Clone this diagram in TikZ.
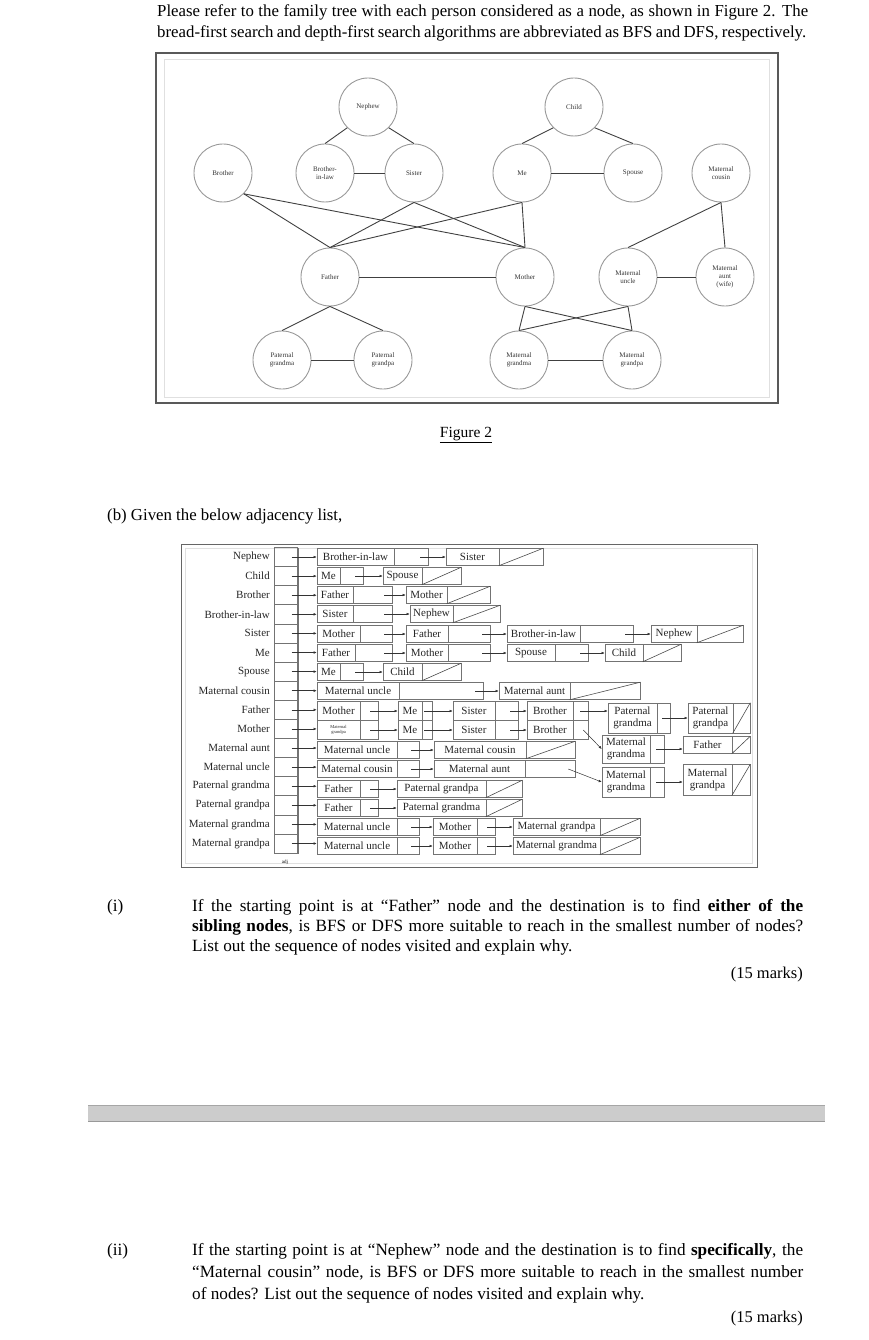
\documentclass[tikz,border=0pt]{standalone}
\usepackage{fontspec}
\setmainfont{Liberation Serif}
\usetikzlibrary{arrows.meta}
\tikzset{
 person/.style={circle, draw=black!40, line width=0.9pt, minimum size=58pt, inner sep=0pt, font=\fontsize{7}{8}\selectfont, align=center, text=black!80},
 link/.style={draw=black!75, line width=0.9pt},
 namebox/.style={draw=black!55, line width=0.6pt, inner sep=0pt, font=\fontsize{11}{11.5}\selectfont, align=center, text=black!85},
 tinytext/.style={font=\fontsize{4.5}{5}\selectfont},
 ptrbox/.style={draw=black!55, line width=0.6pt, inner sep=0pt},
 cellbox/.style={draw=black!55, line width=0.6pt, inner sep=0pt, minimum width=23pt, minimum height=19.1pt},
 ptr/.style={draw=black!80, line width=0.5pt, -{Latex[length=3pt,width=2.6pt]}},
 nullline/.style={draw=black!70, line width=0.6pt},
 lbl/.style={anchor=east, inner sep=0pt, font=\fontsize{11}{11.5}\selectfont, text=black!85},
 body/.style={font=\fontsize{16.8}{20}\selectfont, anchor=base west, inner sep=0pt},
 qtext/.style={font=\fontsize{17.2}{20}\selectfont, anchor=base west, inner sep=0pt},
 marks/.style={font=\fontsize{16.5}{20}\selectfont, anchor=base east, inner sep=0pt},
}
\newcommand\LN[8][]{%
 \node[namebox, #1, minimum width={#4-#3}, minimum height={#7}] (#2) at ({(#3+#4)/2},#6) {#8};
 \node[ptrbox, minimum width={#5-#4}, minimum height={#7}] (#2p) at ({(#4+#5)/2},#6) {};}
\newcommand\NL[1]{\draw[nullline] (#1p.south west) -- (#1p.north east);}
\newcommand\PT[2]{\draw[ptr] ([xshift=-8pt]#1p.east) -- (#1p.east -| #2.west);}
\begin{document}
\begin{tikzpicture}[x=1pt,y=-1pt]
\useasboundingbox (0,0) rectangle (868,1340);
% ---------- top text ----------
\node[body] (t1) at (157,17) {\makebox[651pt][s]{Please refer to the family tree with each person considered as a node, as shown in Figure 2. The}};
\node[body] (t2) at (157,38) {\makebox[649pt][s]{bread-first search and depth-first search algorithms are abbreviated as BFS and DFS, respectively.}};
% ---------- Figure 2 ----------
\draw[draw=black!65, line width=1.3pt] (156,53) rectangle (778,403);
\draw[draw=black!12, line width=0.7pt] (164,59) rectangle (769,397);
\node[person] (nephew) at (368,107) {Nephew};
\node[person] (child) at (574,107) {Child};
\node[person] (brother) at (223,173) {Brother};
\node[person] (bil) at (325,173) {Brother-\\in-law};
\node[person] (sister) at (414,173) {Sister};
\node[person] (me) at (522,173) {Me};
\node[person] (spouse) at (633,173) {Spouse};
\node[person] (mcousin) at (721,173) {Maternal\\cousin};
\node[person] (father) at (330,277) {Father};
\node[person] (mother) at (525,277) {Mother};
\node[person] (muncle) at (628,277) {Maternal\\uncle};
\node[person] (maunt) at (725,277) {Maternal\\aunt\\(wife)};
\node[person] (pgma) at (282,360) {Paternal\\grandma};
\node[person] (pgpa) at (383,360) {Paternal\\grandpa};
\node[person] (mgma) at (519,360) {Maternal\\grandma};
\node[person] (mgpa) at (632,360) {Maternal\\grandpa};
\draw[link] (nephew.-135) -- (bil.north);
\draw[link] (nephew.-45) -- (sister.north);
\draw[link] (bil) -- (sister);
\draw[link] (child.-135) -- (me.north);
\draw[link] (child.-45) -- (spouse.north);
\draw[link] (me) -- (spouse);
\draw[link] (brother.-45) -- (father.north);
\draw[link] (brother.-45) -- (mother.north);
\draw[link] (sister.south) -- (father.north);
\draw[link] (sister.south) -- (mother.north);
\draw[link] (me.south) -- (father.north);
\draw[link] (me.south) -- (mother.north);
\draw[link] (father) -- (mother);
\draw[link] (father.south) -- (pgma.north);
\draw[link] (father.south) -- (pgpa.north);
\draw[link] (pgma) -- (pgpa);
\draw[link] (mother.south) -- (mgma.north);
\draw[link] (mother.south) -- (mgpa.north);
\draw[link] (muncle.south) -- (mgma.north);
\draw[link] (muncle.south) -- (mgpa.north);
\draw[link] (mgma) -- (mgpa);
\draw[link] (muncle) -- (maunt);
\draw[link] (mcousin.south) -- (muncle.north);
\draw[link] (mcousin.south) -- (maunt.north);
\node[font=\fontsize{15.5}{20}\selectfont, inner sep=0pt, anchor=base] (cap) at (466,437) {\underline{Figure 2}};
% ---------- (b) ----------
\node[body] (bq) at (107,520) {(b) Given the below adjacency list,};
\draw[draw=black!60, line width=1pt] (181,544) rectangle (757,867);
\draw[draw=black!12, line width=0.6pt] (185,548) rectangle (752,863);
% adj array
\foreach \i/\t in {1/Nephew,2/Child,3/Brother,4/Brother-in-law,5/Sister,6/Me,7/Spouse,8/Maternal cousin,9/Father,10/Mother,11/Maternal aunt,12/Maternal uncle,13/Paternal grandma,14/Paternal grandpa,15/Maternal grandma,16/Maternal grandpa}{
  \node[cellbox] (c\i) at (285.5,{557+19.1*(\i-1)}) {};
  \node[lbl] (l\i) at (270,{557+19.1*(\i-1)}) {\t};
}
\draw[draw=black!55, line width=0.6pt] (298.5,547.5) -- (298.5,854);
\node[font=\fontsize{5}{5}\selectfont, inner sep=0pt] (adj) at (285,862) {adj};
% row 1 Nephew
\LN{r1a}{317}{394}{428}{557}{17}{Brother-in-law}
\LN{r1b}{446}{499}{543}{557}{17}{Sister}\NL{r1b}
\PT{r1a}{r1b}
% row 2 Child
\LN{r2a}{317}{340}{363}{576}{17}{Me}
\LN{r2b}{383}{422}{461}{576}{17}{Spouse}\NL{r2b}
\PT{r2a}{r2b}
% row 3 Brother
\LN{r3a}{317}{353}{392}{595}{17}{Father}
\LN{r3b}{406}{447}{490}{595}{17}{Mother}\NL{r3b}
\PT{r3a}{r3b}
% row 4 Brother-in-law
\LN{r4a}{317}{353}{392}{614}{17}{Sister}
\LN{r4b}{410}{453}{500}{614}{17}{Nephew}\NL{r4b}
\PT{r4a}{r4b}
% row 5 Sister
\LN{r5a}{317}{360}{392}{634}{17}{Mother}
\LN{r5b}{406}{448}{490}{634}{17}{Father}
\LN{r5c}{507}{580}{633}{634}{17}{Brother-in-law}
\LN{r5d}{651}{697}{743}{634}{17}{Nephew}\NL{r5d}
\PT{r5a}{r5b}\PT{r5b}{r5c}\PT{r5c}{r5d}
% row 6 Me
\LN{r6a}{317}{355}{392}{653}{17}{Father}
\LN{r6b}{406}{448}{490}{653}{17}{Mother}
\LN{r6c}{507}{555}{588}{653}{17}{Spouse}
\LN{r6d}{605}{643}{681}{653}{17}{Child}\NL{r6d}
\PT{r6a}{r6b}\PT{r6b}{r6c}\PT{r6c}{r6d}
% row 7 Spouse
\LN{r7a}{317}{340}{363}{672}{17}{Me}
\LN{r7b}{383}{422}{461}{672}{17}{Child}\NL{r7b}
\PT{r7a}{r7b}
% row 8 Maternal cousin
\LN{r8a}{317}{399}{483}{691}{17}{Maternal uncle}
\LN{r8b}{499}{570}{640}{691}{17}{Maternal aunt}\NL{r8b}
\PT{r8a}{r8b}
% row 9 Father
\LN{r9a}{317}{360}{378}{711}{19}{Mother}
\LN{r9b}{398}{422}{432}{711}{19}{Me}
\LN{r9c}{453}{495}{518}{711}{19}{Sister}
\LN{r9d}{527}{573}{588}{711}{19}{Brother}
\LN{r9e}{608}{657}{670}{718}{30}{Paternal\\grandma}
\LN{r9f}{688}{733}{750}{718}{30}{Paternal\\grandpa}\NL{r9f}
\PT{r9a}{r9b}\PT{r9b}{r9c}\PT{r9c}{r9d}\PT{r9d}{r9e}\PT{r9e}{r9f}
% row 10 Mother
\LN[tinytext]{r10a}{317}{360}{378}{730}{19}{Maternal\\grandpa}
\LN{r10b}{398}{422}{432}{730}{19}{Me}
\LN{r10c}{453}{495}{518}{730}{19}{Sister}
\LN{r10d}{527}{573}{588}{730}{19}{Brother}
\LN{r10e}{602}{650}{664}{749}{28}{Maternal\\grandma}
\LN{r10f}{683}{732}{750}{745}{17}{Father}\NL{r10f}
\PT{r10a}{r10b}\PT{r10b}{r10c}\PT{r10c}{r10d}
\draw[ptr] ([xshift=-5pt]r10dp.east) -- (r10e.west);
\PT{r10e}{r10f}
% row 11 Maternal aunt
\LN{r11a}{317}{397}{419}{750}{17}{Maternal uncle}
\LN{r11b}{434}{526}{575}{750}{17}{Maternal cousin}\NL{r11b}
\PT{r11a}{r11b}
% row 12 Maternal uncle
\LN{r12a}{317}{397}{419}{769}{17}{Maternal cousin}
\LN{r12b}{434}{525}{575}{769}{17}{Maternal aunt}
\LN{r12c}{602}{650}{664}{782}{30}{Maternal\\grandma}
\LN{r12d}{683}{732}{750}{780}{31}{Maternal\\grandpa}\NL{r12d}
\PT{r12a}{r12b}
\draw[ptr] ([xshift=-7pt]r12bp.east) -- (r12c.west);
\PT{r12c}{r12d}
% row 13 Paternal grandma
\LN{r13a}{317}{360}{378}{789}{17}{Father}
\LN{r13b}{397}{486}{522}{789}{17}{Paternal grandpa}\NL{r13b}
\PT{r13a}{r13b}
% row 14 Paternal grandpa
\LN{r14a}{317}{360}{378}{808}{17}{Father}
\LN{r14b}{397}{486}{522}{808}{17}{Paternal grandma}\NL{r14b}
\PT{r14a}{r14b}
% row 15 Maternal grandma
\LN{r15a}{317}{397}{419}{827}{17}{Maternal uncle}
\LN{r15b}{433}{477}{495}{827}{17}{Mother}
\LN{r15c}{513}{600}{640}{827}{17}{Maternal grandpa}\NL{r15c}
\PT{r15a}{r15b}\PT{r15b}{r15c}
% row 16 Maternal grandpa
\LN{r16a}{317}{397}{419}{846}{17}{Maternal uncle}
\LN{r16b}{433}{477}{495}{846}{17}{Mother}
\LN{r16c}{513}{600}{640}{846}{17}{Maternal grandma}\NL{r16c}
\PT{r16a}{r16b}\PT{r16b}{r16c}
% array to lists
\foreach \i in {1,...,16}{\draw[ptr] ([xshift=6pt]c\i.center) -- (c\i.center -| r\i a.west);}
% ---------- (i) ----------
\node[qtext] (n1) at (107,911) {(i)};
\node[qtext] (q1a) at (192,911) {\makebox[611pt][s]{If the starting point is at “Father” node and the destination is to find \textbf{either of the}}};
\node[qtext] (q1b) at (192,931) {\makebox[611pt][s]{\textbf{sibling nodes}, is BFS or DFS more suitable to reach in the smallest number of nodes?}};
\node[qtext] (q1c) at (192,951) {List out the sequence of nodes visited and explain why.};
\node[marks] (m1) at (803,978) {(15 marks)};
% ---------- bar ----------
\fill[black!20] (88,1105) rectangle (825,1122);
\draw[black!35, line width=0.8pt] (88,1105.5) -- (825,1105.5);
\draw[black!40, line width=1pt] (88,1121.5) -- (825,1121.5);
% ---------- (ii) ----------
\node[qtext] (n2) at (107,1255) {(ii)};
\node[qtext] (q2a) at (192,1255) {\makebox[611pt][s]{If the starting point is at “Nephew” node and the destination is to find \textbf{specifically}, the}};
\node[qtext] (q2b) at (192,1277) {\makebox[611pt][s]{“Maternal cousin” node, is BFS or DFS more suitable to reach in the smallest number}};
\node[qtext] (q2c) at (192,1299) {of nodes? List out the sequence of nodes visited and explain why.};
\node[marks] (m2) at (803,1322) {(15 marks)};
\end{tikzpicture}
\end{document}
